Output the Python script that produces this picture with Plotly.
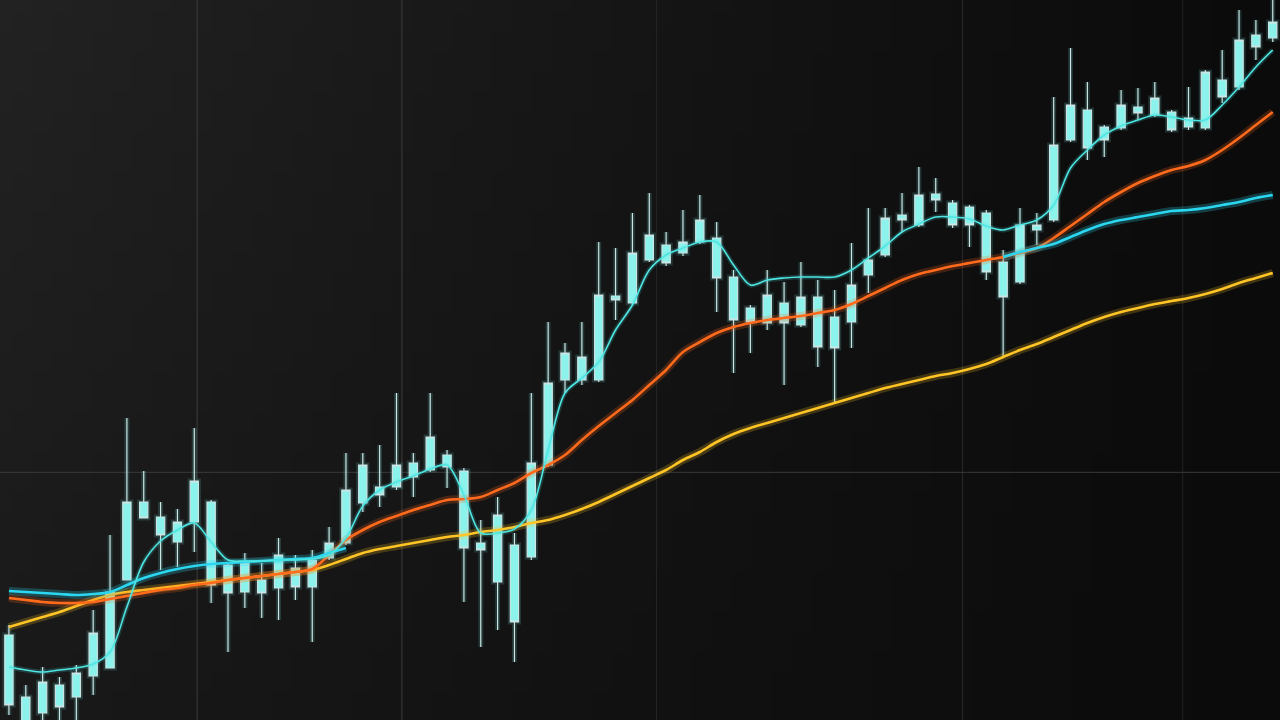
import base64
import struct
import zlib

import plotly.graph_objects as go

# ---------------- data ----------------
opens = [85, 23, 7, 35, 23, 44, 52, 140, 218, 203,
         178, 198, 218, 155, 128, 140, 132, 152, 133, 162,
         177, 217, 233, 233, 257, 250, 265, 249, 177, 138,
         175, 163, 255, 340, 340, 340, 424, 417, 460, 475,
         467, 478, 482, 443, 412, 397, 417, 395, 423, 403,
         398, 445, 465, 505, 495, 526, 517, 513, 507, 458,
         438, 490, 500, 580, 610, 593, 592, 613, 605, 608,
         593, 592, 640, 633, 685, 682]
closes = [15, -2, 38, 13, 47, 87, 128, 218, 202, 185,
          198, 239, 135, 127, 157, 127, 165, 133, 160, 177,
          230, 255, 225, 255, 243, 283, 253, 172, 170, 205,
          98, 257, 337, 367, 363, 425, 420, 467, 485, 457,
          478, 500, 442, 400, 398, 425, 397, 423, 373, 372,
          435, 460, 502, 500, 525, 520, 495, 495, 448, 423,
          495, 495, 575, 615, 572, 580, 615, 607, 622, 590,
          602, 648, 623, 680, 673, 698]
highs = [95, 35, 53, 43, 55, 110, 185, 302, 249, 218,
         211, 292, 220, 157, 167, 157, 182, 165, 170, 193,
         267, 267, 275, 327, 267, 327, 270, 252, 200, 223,
         187, 327, 398, 377, 398, 478, 472, 507, 527, 488,
         510, 525, 498, 450, 415, 450, 438, 458, 440, 430,
         477, 512, 512, 527, 553, 542, 520, 515, 510, 470,
         512, 507, 623, 672, 638, 595, 630, 632, 638, 610,
         633, 650, 670, 710, 700, 720]
lows = [5, -5, -2, -2, 0, 25, 52, 140, 202, 150,
        153, 168, 117, 68, 112, 102, 100, 120, 78, 160,
        175, 208, 213, 230, 223, 248, 232, 118, 73, 90,
        58, 160, 253, 327, 335, 338, 400, 415, 458, 454,
        464, 476, 408, 347, 367, 390, 335, 393, 353, 318,
        372, 427, 463, 488, 493, 508, 492, 473, 440, 363,
        436, 475, 498, 578, 560, 563, 590, 600, 603, 588,
        590, 590, 617, 630, 660, 678]

ma_fast = [53, 50, 48, 50, 52, 56, 68, 113, 158, 179,
           190, 197, 178, 160, 159, 159, 160, 160, 161, 165,
           182, 214, 230, 238, 244, 251, 255, 225, 187, 187,
           191, 210, 270, 327, 342, 358, 390, 415, 450, 465,
           472, 478, 478, 455, 435, 440, 442, 443, 443, 443,
           450, 462, 474, 488, 496, 503, 503, 501, 494, 490,
           495, 500, 515, 552, 570, 585, 594, 600, 605, 603,
           600, 600, 615, 633, 653, 670]
ma_mid = ([129, 128, 127, 126, 125, 126, 128, 135, 142, 147,
           151, 154, 156, 157, 158, 159, 160, 161, 162, 167,
           172] + [None] * 38 +
          [463, 468, 472, 476, 483, 490, 496, 500, 503, 506,
           509, 510, 512, 515, 518, 522, 525])
ma_orange = [122, 120, 118, 117, 117, 118, 121, 124, 127, 130,
             132, 135, 137, 140, 142, 144, 146, 148, 151, 165,
             180, 190, 198, 204, 210, 215, 220, 221, 223, 230,
             237, 247, 255, 265, 280, 294, 307, 320, 335, 350,
             368, 378, 387, 393, 397, 400, 402, 404, 407, 410,
             416, 424, 432, 440, 446, 450, 454, 457, 460, 463,
             467, 472, 482, 494, 506, 518, 528, 537, 544, 550,
             554, 560, 570, 582, 595, 608]
ma_yellow = [93, 98, 103, 108, 114, 120, 125, 128, 130, 132,
             134, 136, 138, 140, 142, 144, 146, 148, 150, 155,
             161, 167, 171, 174, 177, 180, 183, 185, 188, 190,
             193, 197, 200, 205, 211, 218, 226, 234, 242, 250,
             260, 268, 278, 286, 292, 297, 302, 307, 312, 317,
             322, 327, 332, 336, 340, 344, 347, 351, 356, 363,
             370, 376, 383, 390, 397, 403, 408, 412, 416, 419,
             422, 426, 431, 437, 442, 447]

x = list(range(len(opens)))


# ---------------- background gradient image ----------------
def make_png(w, h):
    rows = []
    for j in range(h):
        fy = j / (h - 1)
        row = bytearray([0])
        for i in range(w):
            fx = i / (w - 1)
            v = 11 + 20 * (1 - fx) ** 1.2 * (1 - 0.3 * fy) + 3 * (1 - fy) * (1 - fx)
            row.append(max(0, min(255, int(round(v)))))
        rows.append(bytes(row))
    raw = b"".join(rows)

    def chunk(tag, data):
        c = tag + data
        return struct.pack(">I", len(data)) + c + struct.pack(">I", zlib.crc32(c) & 0xffffffff)

    png = b"\x89PNG\r\n\x1a\n"
    png += chunk(b"IHDR", struct.pack(">IIBBBBB", w, h, 8, 0, 0, 0, 0))
    png += chunk(b"IDAT", zlib.compress(raw, 9))
    png += chunk(b"IEND", b"")
    return "data:image/png;base64," + base64.b64encode(png).decode()


fig = go.Figure()


def add_line(values, color, width, glow_color, glow_width):
    fig.add_trace(go.Scatter(x=x, y=values, mode="lines", connectgaps=False,
                             line=dict(color=glow_color, width=glow_width, shape="spline", smoothing=0.9),
                             hoverinfo="skip"))
    fig.add_trace(go.Scatter(x=x, y=values, mode="lines", connectgaps=False,
                             line=dict(color=color, width=width, shape="spline", smoothing=0.9),
                             hoverinfo="skip"))


add_line(ma_yellow, "#ffc425", 2.6, "rgba(255,196,37,0.22)", 8)
add_line(ma_orange, "#ff6a1c", 2.6, "rgba(255,106,28,0.22)", 8)
add_line(ma_mid, "#2ad6f0", 2.6, "rgba(42,214,240,0.25)", 8)

# candle glow
fig.add_trace(go.Candlestick(
    x=x, open=opens, high=highs, low=lows, close=closes,
    increasing=dict(line=dict(color="rgba(120,240,235,0.16)", width=5), fillcolor="rgba(120,240,235,0.2)"),
    decreasing=dict(line=dict(color="rgba(120,240,235,0.16)", width=5), fillcolor="rgba(120,240,235,0.2)"),
    whiskerwidth=0, hoverinfo="skip"))
fig.add_trace(go.Candlestick(
    x=x, open=opens, high=highs, low=lows, close=closes,
    increasing=dict(line=dict(color="#cde4e4", width=1.2), fillcolor="#8cf2ec"),
    decreasing=dict(line=dict(color="#cde4e4", width=1.2), fillcolor="#8cf2ec"),
    whiskerwidth=0, hoverinfo="skip"))

add_line(ma_fast, "#4ee6e2", 1.6, "rgba(78,230,226,0.18)", 5)

# ---------------- layout ----------------
grid_x = [0.154, 0.314, 0.513, 0.752, 0.924]
grid_col = ["#3d3d3d", "#3b3b3b", "#262626", "#2a2a2a", "#232323"]
shapes = [dict(type="line", xref="paper", yref="paper", x0=gx, x1=gx, y0=0, y1=1,
               line=dict(color=gc, width=1), layer="below") for gx, gc in zip(grid_x, grid_col)]
shapes.append(dict(type="line", xref="paper", yref="paper", x0=0, x1=1, y0=0.344, y1=0.344,
                   line=dict(color="#3a3a3a", width=1), layer="below"))

fig.update_layout(
    width=1280, height=720,
    margin=dict(l=0, r=0, t=0, b=0),
    paper_bgcolor="#111111",
    plot_bgcolor="rgba(0,0,0,0)",
    showlegend=False,
    boxgap=0.3,
    shapes=shapes,
    images=[dict(source=make_png(64, 36), xref="paper", yref="paper", x=0, y=1,
                 sizex=1, sizey=1, sizing="stretch", layer="below")],
    xaxis=dict(range=[-0.53, 75.43], visible=False, rangeslider=dict(visible=False), fixedrange=True),
    yaxis=dict(range=[0, 720], visible=False, fixedrange=True),
)

fig.write_html(
    "out.html",
    config={"displayModeBar": False},
    post_script="document.body.style.margin='0';document.body.style.background='#111111';"
                "document.documentElement.style.overflow='hidden';",
)
